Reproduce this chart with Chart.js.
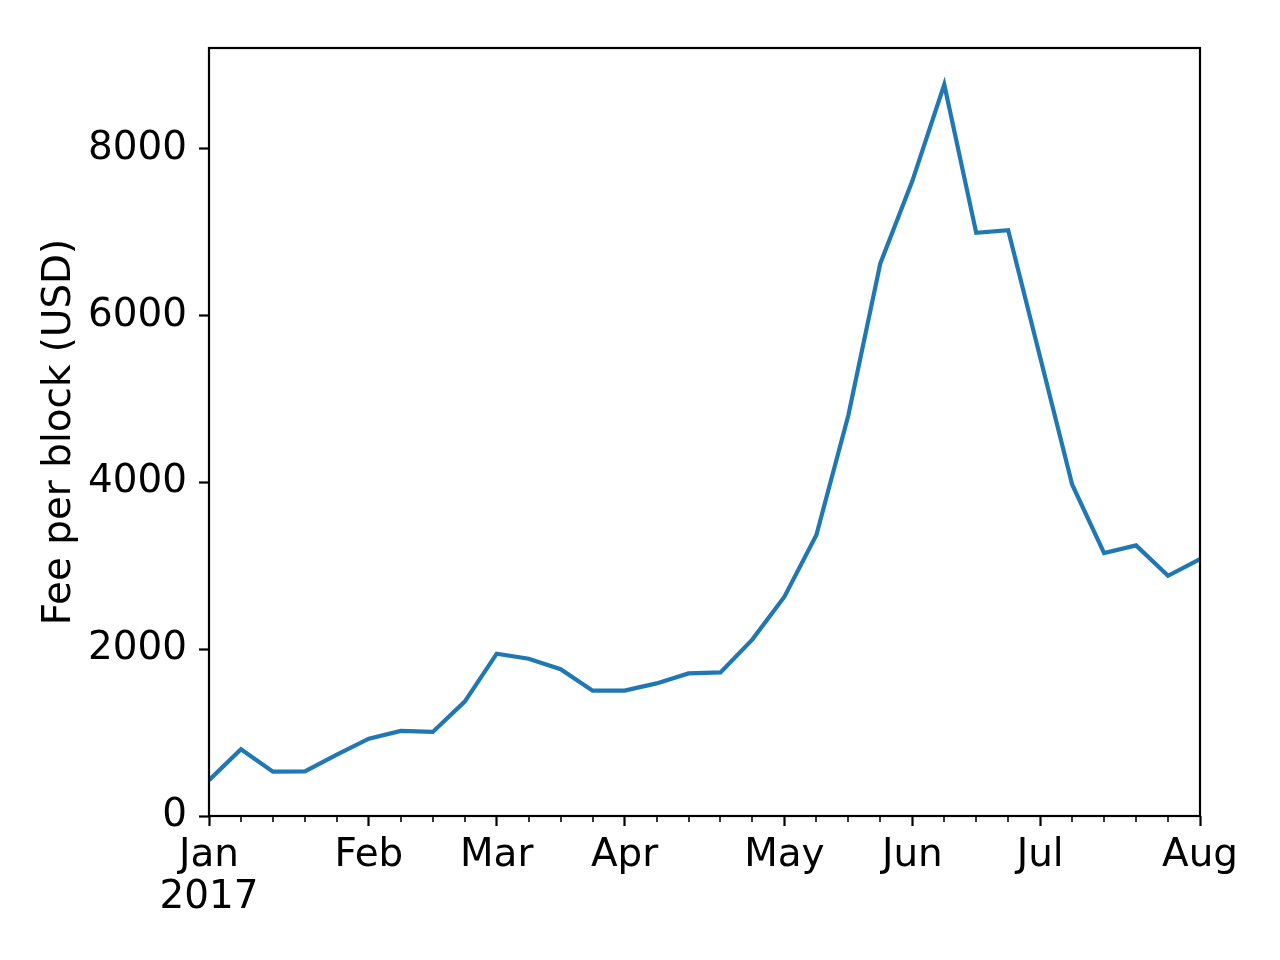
<!DOCTYPE html>
<html>
<head>
<meta charset="utf-8">
<script src="https://cdn.jsdelivr.net/npm/chart.js@4/dist/chart.umd.min.js"></script>
<style>
  html, body { margin: 0; padding: 0; background: #fff; }
</style>
</head>
<body>
<canvas id="chart" width="1280" height="960"></canvas>
<script>
// weekly periods (week ending Sunday), 2017
const weeks = [
    "2017-01-01", "2017-01-08", "2017-01-15", "2017-01-22", "2017-01-29",
    "2017-02-05", "2017-02-12", "2017-02-19", "2017-02-26",
    "2017-03-05", "2017-03-12", "2017-03-19", "2017-03-26",
    "2017-04-02", "2017-04-09", "2017-04-16", "2017-04-23", "2017-04-30",
    "2017-05-07", "2017-05-14", "2017-05-21", "2017-05-28",
    "2017-06-04", "2017-06-11", "2017-06-18", "2017-06-25",
    "2017-07-02", "2017-07-09", "2017-07-16", "2017-07-23", "2017-07-30",
    "2017-08-06"
];
const feePerBlock = [
    430, 800, 532, 536, 735, 927, 1020, 1008, 1372,
    1946, 1886, 1760, 1503, 1503, 1590, 1710, 1722,
    2118, 2630, 3368, 4805, 6625, 7612, 8770,
    6992, 7024, 5500, 3975, 3152, 3244, 2880, 3080
];
const monthTickIdx = [0, 5, 9, 13, 18, 22, 26, 31];
const monthLabels = ["Jan", "Feb", "Mar", "Apr", "May", "Jun", "Jul", "Aug"];
const yearLabel = "2017";
const yTicks = [0, 2000, 4000, 6000, 8000];
const yMax = 9208;

const FONT = "'DejaVu Sans', sans-serif";
const FONT_SIZE = 38.9;

// matplotlib-like frame + short minor ticks for every week
const frame = {
    id: "frame",
    afterDatasetsDraw(chart) {
        const { ctx, chartArea: a } = chart;
        const xs = chart.scales.x;
        ctx.save();
        ctx.strokeStyle = "#000";
        ctx.lineWidth = 2.2;
        ctx.strokeRect(a.left, a.top, a.right - a.left, a.bottom - a.top);

        ctx.lineWidth = 1.6;
        weeks.forEach((w, i) => {
            if (monthTickIdx.includes(i)) return;
            const x = Math.round(xs.getPixelForValue(i));
            ctx.beginPath();
            ctx.moveTo(x, a.bottom);
            ctx.lineTo(x, a.bottom + 6);
            ctx.stroke();
        });
        ctx.restore();
    }
};

new Chart(document.getElementById("chart").getContext("2d"), {
    type: "line",
    data: {
        datasets: [{
            data: feePerBlock.map((v, i) => ({ x: i, y: v })),
            borderColor: "#1f77b4",
            borderWidth: 4.2,
            pointRadius: 0,
            tension: 0,
            fill: false,
        }],
    },
    options: {
        responsive: false,
        animation: false,
        devicePixelRatio: 1,
        layout: { padding: { left: 30, top: 48, right: 80, bottom: 0 } },
        plugins: {
            legend: { display: false },
            tooltip: { enabled: false },
        },
        scales: {
            x: {
                type: "linear",
                min: 0,
                max: weeks.length - 1,
                afterBuildTicks: (s) => {
                    s.ticks = monthTickIdx.map(v => ({ value: v }));
                },
                afterFit: (s) => { s.height = 960 - 816; },
                border: { display: false },
                grid: {
                    drawOnChartArea: false,
                    drawTicks: true,
                    tickLength: 10,
                    tickWidth: 2.2,
                    tickColor: "#000",
                },
                ticks: {
                    autoSkip: false,
                    maxRotation: 0,
                    padding: 8,
                    color: "#000",
                    font: { family: FONT, size: FONT_SIZE, lineHeight: 1.1 },
                    callback: (v) => {
                        const k = monthTickIdx.indexOf(v);
                        if (k < 0) return "";
                        return k === 0 ? [monthLabels[k], yearLabel] : monthLabels[k];
                    },
                },
            },
            y: {
                min: 0,
                max: yMax,
                afterBuildTicks: (s) => {
                    s.ticks = yTicks.map(v => ({ value: v }));
                },
                afterFit: (s) => { s.width = 209 - 30; },
                border: { display: false },
                grid: {
                    drawOnChartArea: false,
                    drawTicks: true,
                    tickLength: 10,
                    tickWidth: 2.2,
                    tickColor: "#000",
                },
                ticks: {
                    padding: 12,
                    color: "#000",
                    font: { family: FONT, size: FONT_SIZE },
                    callback: (v) => String(v),
                },
                title: {
                    display: true,
                    text: "Fee per block (USD)",
                    color: "#000",
                    font: { family: FONT, size: FONT_SIZE },
                    padding: { top: 7, bottom: 0 },
                },
            },
        },
    },
    plugins: [frame],
});
</script>
</body>
</html>
